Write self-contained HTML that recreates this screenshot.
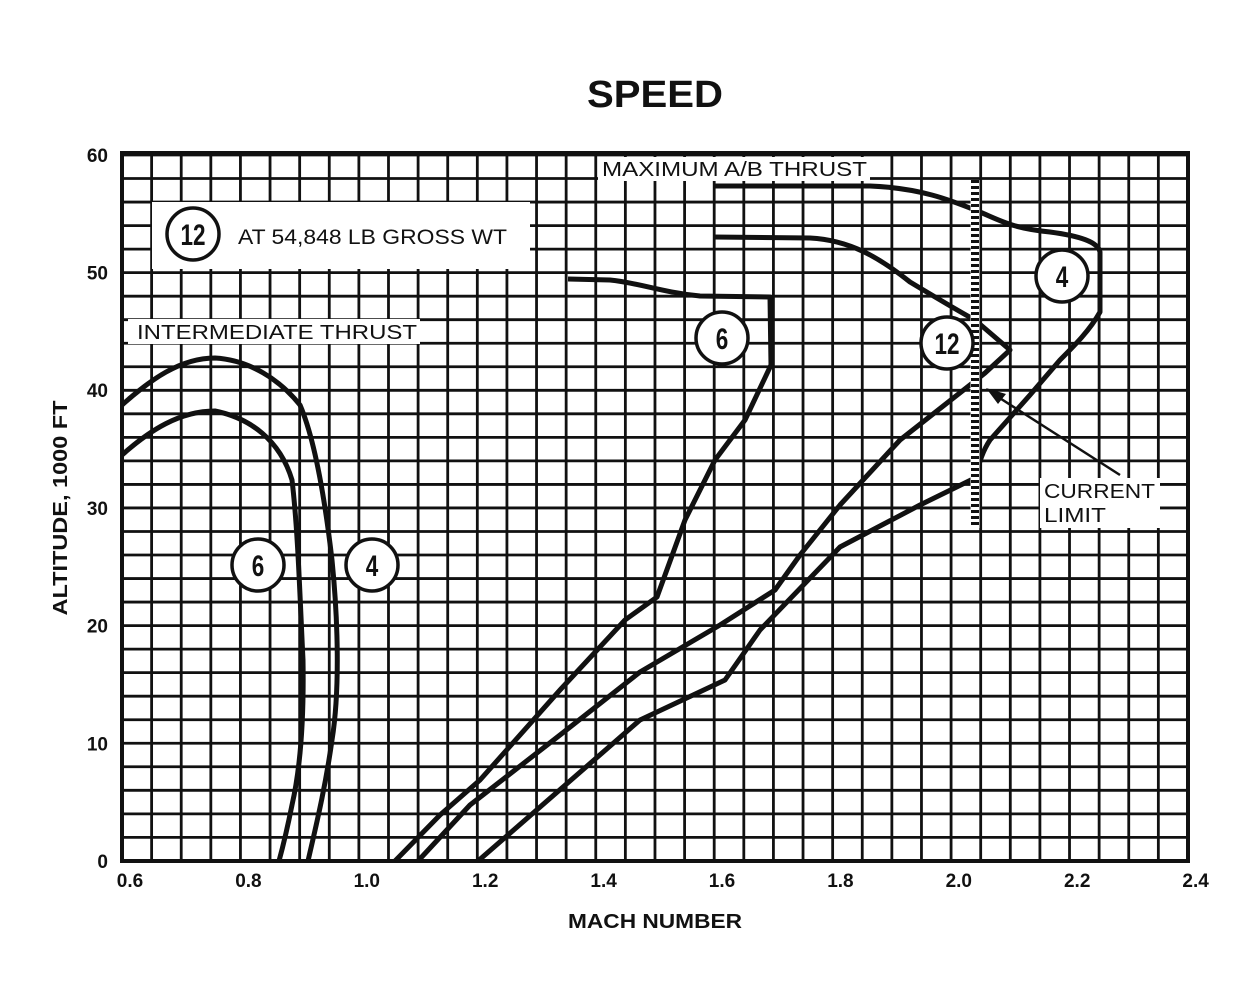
<!DOCTYPE html>
<html><head><meta charset="utf-8"><style>
html,body{margin:0;padding:0;background:#fff;}
svg{display:block;font-family:"Liberation Sans",sans-serif;}
</style></head><body>
<svg width="1242" height="994" viewBox="0 0 1242 994" xmlns="http://www.w3.org/2000/svg">
<rect width="1242" height="994" fill="#fff"/>
<text x="655" y="107" font-size="38" font-weight="bold" text-anchor="middle" fill="#111" textLength="136" lengthAdjust="spacingAndGlyphs">SPEED</text>
</svg>
<script>
const NS="http://www.w3.org/2000/svg";
const svg=document.querySelector('svg');
function el(t,a,txt){const e=document.createElementNS(NS,t);for(const k in a)e.setAttribute(k,a[k]);if(txt!==undefined)e.textContent=txt;svg.appendChild(e);return e;}
for(let i=0;i<=36;i++){const x=122+i*29.61;el('line',{x1:x,y1:155,x2:x,y2:861,stroke:'#111','stroke-width':2.8});}
for(let j=0;j<=30;j++){const y=155+j*23.53;el('line',{x1:122,y1:y,x2:1188,y2:y,stroke:'#111','stroke-width':2.8});}
el('rect',{x:122,y:153,width:1066,height:708,fill:'none',stroke:'#111','stroke-width':4});
el('rect',{x:152,y:202,width:378,height:67,fill:'#fff'});
el('rect',{x:128,y:319,width:292,height:25,fill:'#fff'});
el('rect',{x:598,y:157,width:272,height:24,fill:'#fff'});
el('rect',{x:1040,y:478,width:120,height:50,fill:'#fff'});
const L='spacingAndGlyphs';
el('text',{x:238,y:244,'font-size':21,fill:'#111',textLength:269,lengthAdjust:L},'AT 54,848 LB GROSS WT');
el('text',{x:137,y:339,'font-size':20,fill:'#111',textLength:280,lengthAdjust:L},'INTERMEDIATE THRUST');
el('text',{x:602,y:176,'font-size':20,fill:'#111',textLength:265,lengthAdjust:L},'MAXIMUM A/B THRUST');
el('text',{x:1044,y:498,'font-size':20,fill:'#111',textLength:111,lengthAdjust:L},'CURRENT');
el('text',{x:1044,y:522,'font-size':20,fill:'#111',textLength:62,lengthAdjust:L},'LIMIT');
const P=[
"M122,405 C150,380 180,358 215,358 C250,360 280,380 300,405 C315,440 325,500 332,560 C338,620 340,690 332,740 C325,790 315,830 308,861",
"M122,455 C150,430 180,411 215,411 C250,418 280,440 292,480 C298,530 300,600 303,660 C304,720 300,770 292,805 C287,830 282,850 279,861",
"M568,279 L610,280 C640,283 660,292 700,296 L770,297 L771,365 L745,420 L715,460 L685,520 L657,597 L625,620 L560,690 L480,780 L440,815 L395,861",
"M713,237 L810,238 C850,240 880,258 910,282 C940,300 960,312 975,320 L1010,350 L985,373 L975,381 L900,440 L840,505 L800,555 L775,590 L720,625 L640,672 L560,735 L470,805 L418,861",
"M713,186 L870,186 C920,188 950,200 975,210 C1000,220 1010,228 1050,232 C1080,236 1098,242 1100,252 L1100,312 C1090,330 1075,345 1060,360 L1030,395 L990,440 C980,455 978,470 975,478 L920,505 L840,547 L760,630 L725,680 L640,720 L478,861"
];
P.forEach(d=>el('path',{d:d,fill:'none',stroke:'#111','stroke-width':5,'stroke-linejoin':'round'}));
el('line',{x1:975,y1:180,x2:975,y2:528,stroke:'#fff','stroke-width':9});
el('line',{x1:975,y1:180,x2:975,y2:528,stroke:'#111','stroke-width':8,'stroke-dasharray':'3 3'});
el('line',{x1:1120,y1:475,x2:995,y2:395,stroke:'#111','stroke-width':2.5});
el('polygon',{points:'986,388 1006,394 998,404',fill:'#111'});
[[193,234,'12'],[258,565,'6'],[372,565,'4'],[722,338,'6'],[947,343,'12'],[1062,276,'4']].forEach(c=>{
el('circle',{cx:c[0],cy:c[1],r:26,fill:'#fff',stroke:'#111','stroke-width':3.5});
el('text',{x:c[0],y:c[1]+11,'font-size':30,'font-weight':'bold','text-anchor':'middle',fill:'#111',transform:`translate(${c[0]} 0) scale(0.75 1) translate(${-c[0]} 0)`},c[2]);
});
for(let k=0;k<=6;k++){el('text',{x:108,y:861-k*117.7+7,'font-size':19,'font-weight':'bold','text-anchor':'end',fill:'#111'},String(k*10));}
const xl=['0.6','0.8','1.0','1.2','1.4','1.6','1.8','2.0','2.2','2.4'];
xl.forEach((t,i)=>el('text',{x:130+i*118.4,y:887,'font-size':19,'font-weight':'bold','text-anchor':'middle',fill:'#111'},t));
el('text',{x:655,y:928,'font-size':20,'font-weight':'bold','text-anchor':'middle',fill:'#111',textLength:174,lengthAdjust:L},'MACH NUMBER');
el('text',{x:0,y:0,'font-size':20,'font-weight':'bold','text-anchor':'middle',fill:'#111',textLength:215,lengthAdjust:L,transform:'translate(67,508) rotate(-90)'},'ALTITUDE, 1000 FT');
</script>
</body></html>
